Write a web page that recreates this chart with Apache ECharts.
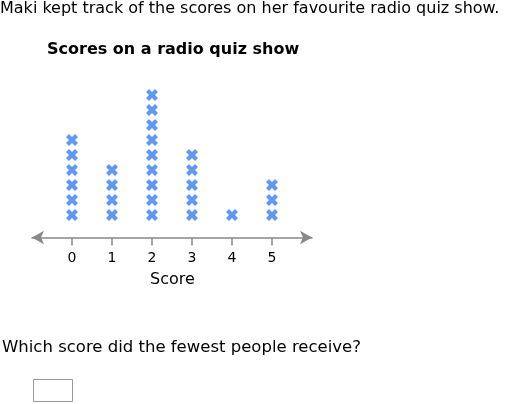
<!DOCTYPE html><html><head><meta charset="utf-8"><script src="https://cdn.jsdelivr.net/npm/echarts@6/dist/echarts.min.js"></script>
<style>body{margin:0}#c{width:506px;height:404px}</style></head><body><div id="c"></div><script>
const scores=[0,1,2,3,4,5];
const counts=[6,4,9,5,1,3];
const tickLabels=['0','1','2','3','4','5'];
const pts=[];
scores.forEach((s,i)=>{for(let k=1;k<=counts[i];k++)pts.push([s,k]);});
const X='path://M2.5,0 L5,2.5 L7.5,0 L10,2.5 L7.5,5 L10,7.5 L7.5,10 L5,7.5 L2.5,10 L0,7.5 L2.5,5 L0,2.5 Z';
const ch=echarts.init(document.getElementById('c'));
ch.setOption({animation:false,
textStyle:{fontFamily:'DejaVu Sans'},
graphic:[
{type:'text',left:0,top:1,style:{text:'Maki kept track of the scores on her favourite radio quiz show.',font:'16px DejaVu Sans',fill:'#000'}},
{type:'text',left:47,top:42,style:{text:'Scores on a radio quiz show',font:'bold 16px DejaVu Sans',fill:'#000'}},
{type:'text',left:150,top:272,style:{text:'Score',font:'16px DejaVu Sans',fill:'#000'}},
{type:'text',left:2,top:339,style:{text:'Which score did the fewest people receive?',font:'16.5px DejaVu Sans',fill:'#000'}},
{type:'rect',shape:{x:33.5,y:379.5,width:39,height:22},style:{fill:'#fff',stroke:'#999',lineWidth:1}}
],
grid:{left:32,right:194,top:80,height:157.5},
xAxis:{type:'value',min:-1,max:6,interval:1,
axisLine:{onZero:false,lineStyle:{color:'#888',width:1.5},symbol:['arrow','arrow'],symbolSize:[10,12]},
axisTick:{show:true,length:8,lineStyle:{color:'#888',width:1.5},customValues:scores},
axisLabel:{margin:14,fontSize:14,color:'#000',customValues:scores,formatter:v=>tickLabels[v]},
splitLine:{show:false}},
yAxis:{type:'value',min:-0.5,max:10,show:false},
series:[{type:'scatter',data:pts,symbol:X,symbolSize:12,itemStyle:{color:'#3a7ef0'}}]
});
</script></body></html>
